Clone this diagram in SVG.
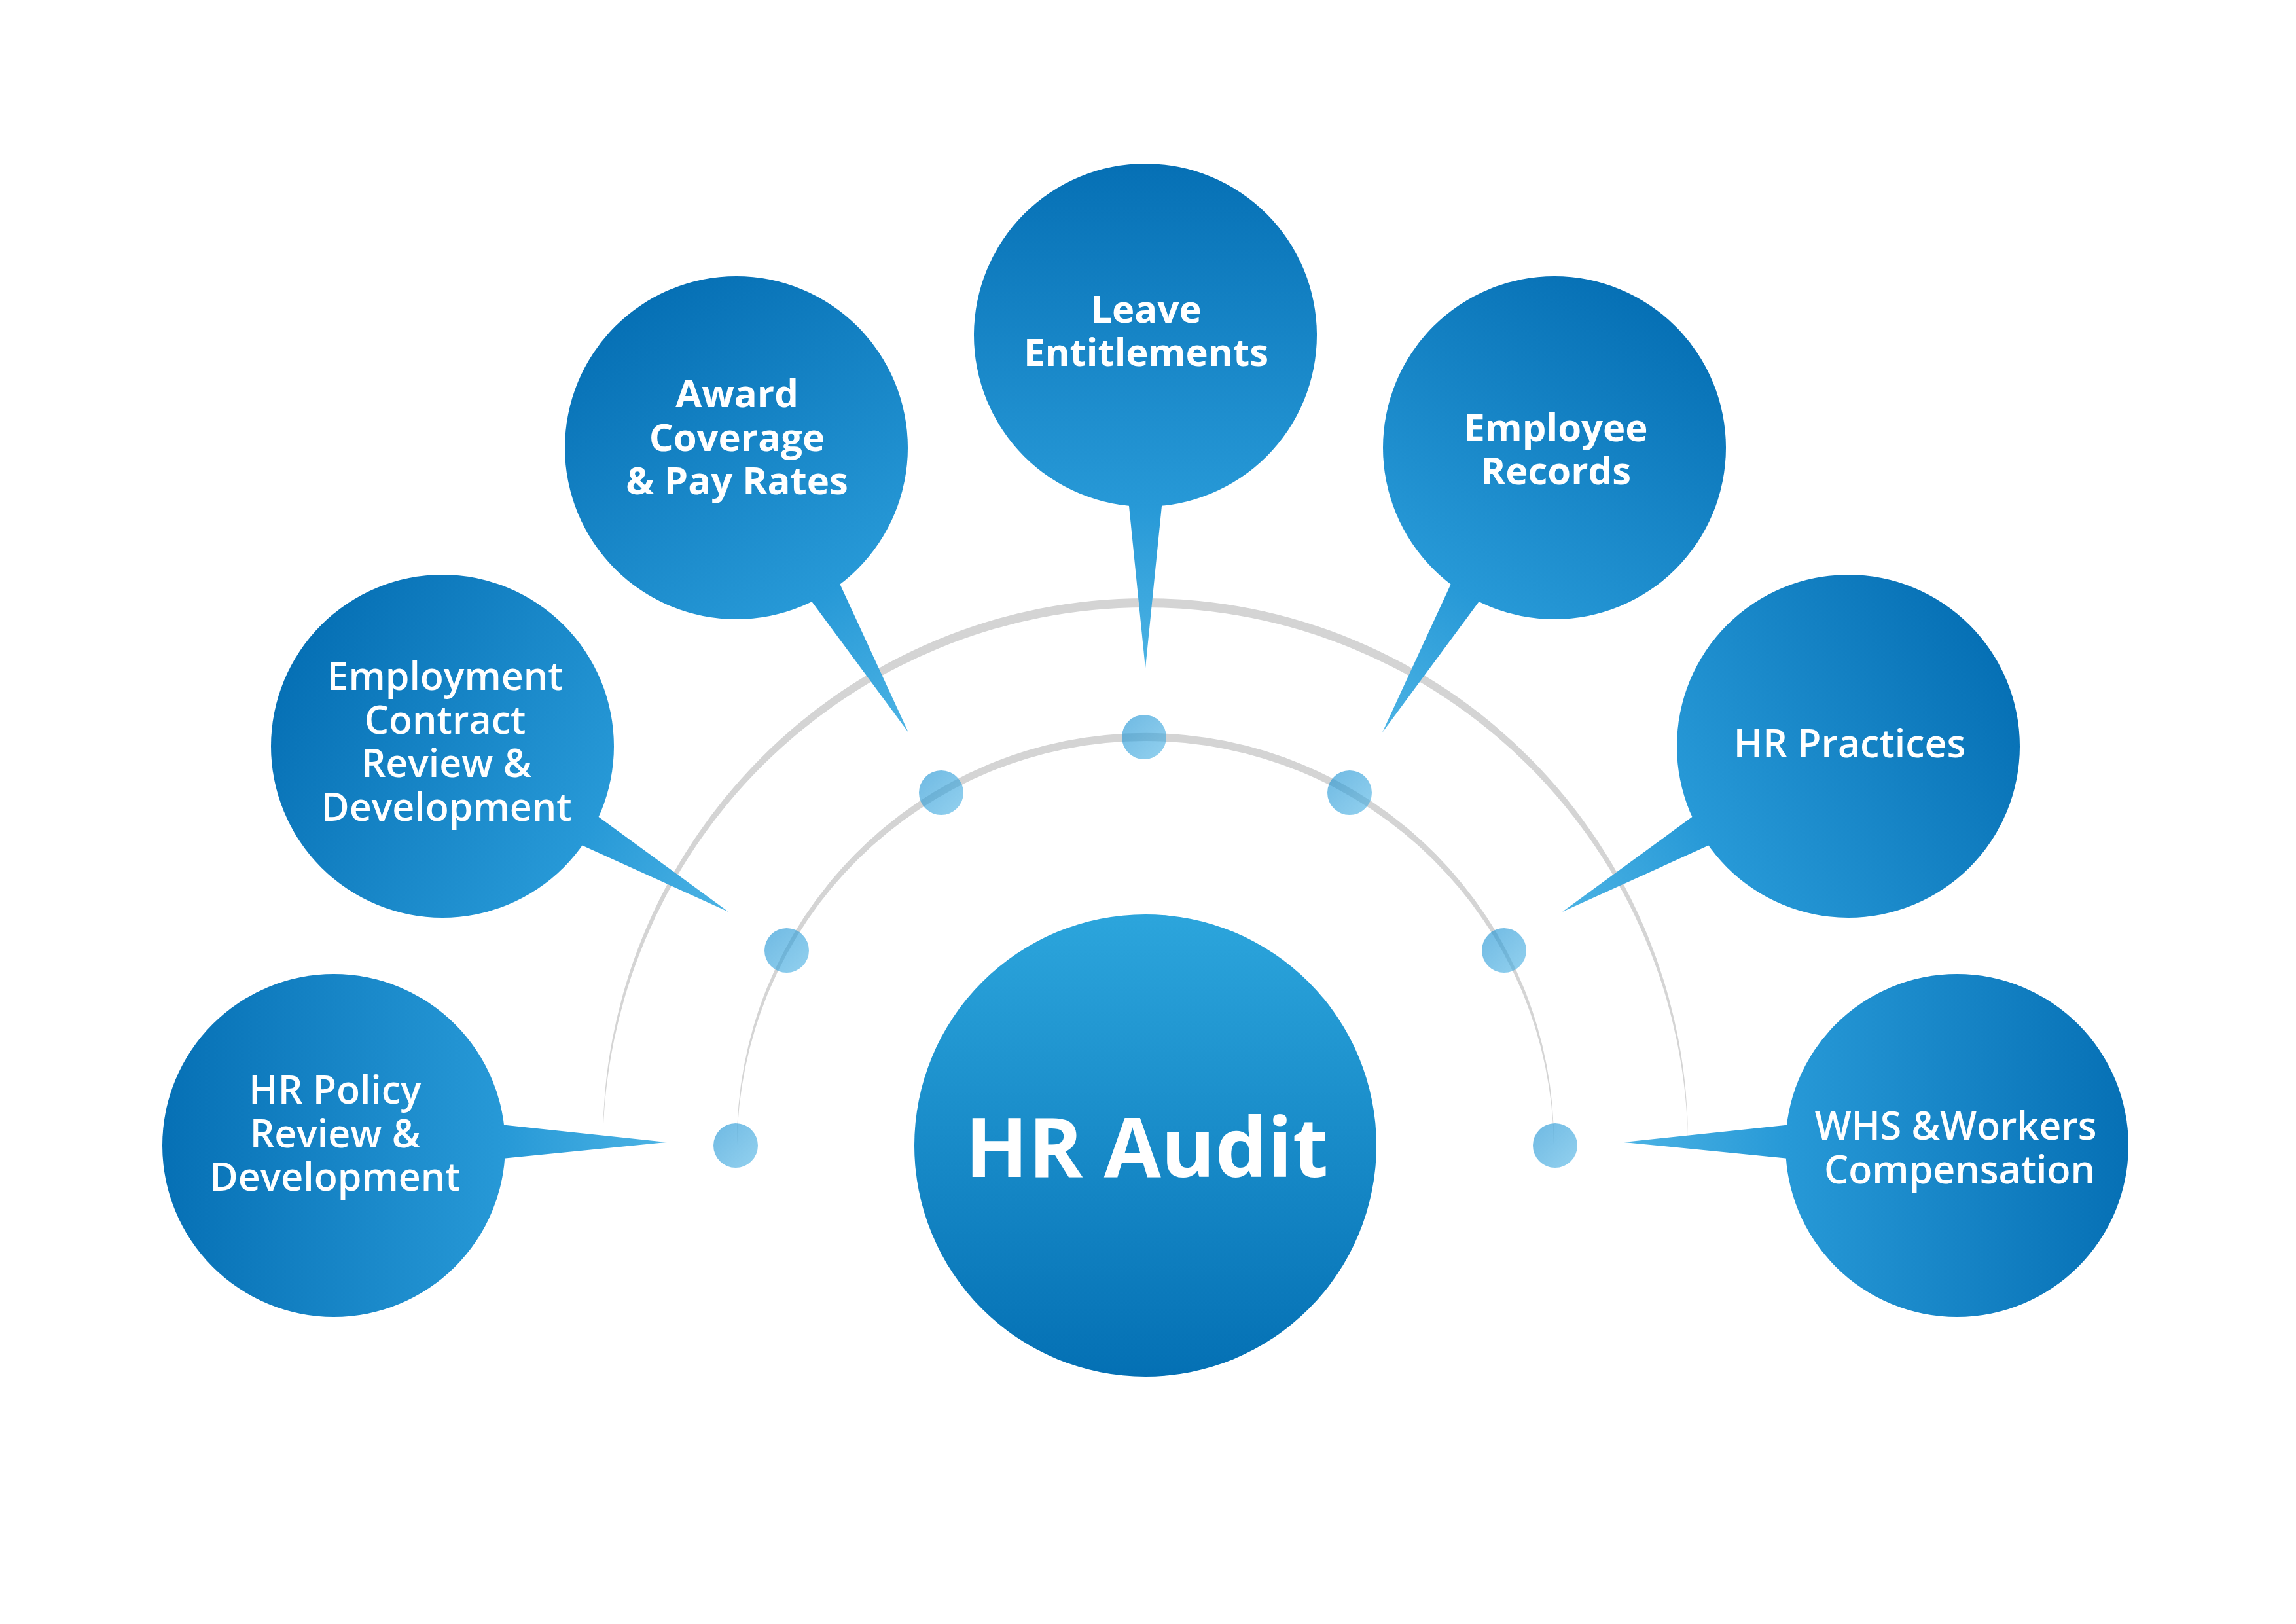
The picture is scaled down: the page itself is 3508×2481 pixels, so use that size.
<svg xmlns="http://www.w3.org/2000/svg" width="3508" height="2481" viewBox="0 0 3508 2481">
<defs>
<style>
.lbl{font-family:"Open Sans","Liberation Sans",sans-serif;font-weight:700;font-size:58px;fill:#ffffff;text-anchor:middle}
.lbl2{font-family:"Open Sans","Liberation Sans",sans-serif;font-weight:600;font-size:59px;fill:#ffffff;text-anchor:middle}
.title{font-family:"Open Sans","Liberation Sans",sans-serif;font-weight:700;font-size:126px;fill:#ffffff;text-anchor:middle}
.arc{fill:#d4d4d4}
.dot{fill:url(#gDot);fill-opacity:0.6}
</style>
<linearGradient id="gDot" x1="0" y1="0" x2="1" y2="1">
<stop offset="0" stop-color="#0f8bd0"/>
<stop offset="1" stop-color="#4ab2e4"/>
</linearGradient>
<linearGradient id="gCenter" x1="0" y1="0" x2="0" y2="1">
<stop offset="0" stop-color="#2ca5dc"/>
<stop offset="1" stop-color="#0470b4"/>
</linearGradient>
<linearGradient id="g1" gradientUnits="userSpaceOnUse" x1="248" y1="1750" x2="1019" y2="1745">
<stop offset="0" stop-color="#0670b5"/><stop offset="0.68" stop-color="#2799d7"/><stop offset="1" stop-color="#4cb3e4"/>
</linearGradient>
<linearGradient id="g2" gradientUnits="userSpaceOnUse" x1="449" y1="1009" x2="1113" y2="1393">
<stop offset="0" stop-color="#0670b5"/><stop offset="0.68" stop-color="#2799d7"/><stop offset="1" stop-color="#4cb3e4"/>
</linearGradient>
<linearGradient id="g3" gradientUnits="userSpaceOnUse" x1="989" y1="460" x2="1388" y2="1119">
<stop offset="0" stop-color="#0670b5"/><stop offset="0.68" stop-color="#2799d7"/><stop offset="1" stop-color="#4cb3e4"/>
</linearGradient>
<linearGradient id="g4" gradientUnits="userSpaceOnUse" x1="1750" y1="250" x2="1750" y2="1021">
<stop offset="0" stop-color="#0670b5"/><stop offset="0.68" stop-color="#2799d7"/><stop offset="1" stop-color="#4cb3e4"/>
</linearGradient>
<linearGradient id="g5" gradientUnits="userSpaceOnUse" x1="2511" y1="460" x2="2112" y2="1119">
<stop offset="0" stop-color="#0670b5"/><stop offset="0.68" stop-color="#2799d7"/><stop offset="1" stop-color="#4cb3e4"/>
</linearGradient>
<linearGradient id="g6" gradientUnits="userSpaceOnUse" x1="3051" y1="1009" x2="2387" y2="1393">
<stop offset="0" stop-color="#0670b5"/><stop offset="0.68" stop-color="#2799d7"/><stop offset="1" stop-color="#4cb3e4"/>
</linearGradient>
<linearGradient id="g7" gradientUnits="userSpaceOnUse" x1="3252" y1="1750" x2="2481" y2="1745">
<stop offset="0" stop-color="#0670b5"/><stop offset="0.68" stop-color="#2799d7"/><stop offset="1" stop-color="#4cb3e4"/>
</linearGradient>
</defs>
<rect width="3508" height="2481" fill="#ffffff"/>

<g id="connectors">
<path class="arc" d="M 921 1750 A 829.03 829.03 0 1 1 2579 1750 A 829.03 829.03 0 0 0 921 1750 Z"/>
<path class="arc" d="M 1126 1750 A 624.03 624.03 0 1 1 2374 1750 A 624.03 624.03 0 0 0 1126 1750 Z"/>
<circle class="dot" cx="1124" cy="1750" r="34"/>
<circle class="dot" cx="1202" cy="1452" r="34"/>
<circle class="dot" cx="1438" cy="1211" r="34"/>
<circle class="dot" cx="1748" cy="1126" r="34"/>
<circle class="dot" cx="2062" cy="1211" r="34"/>
<circle class="dot" cx="2298" cy="1452" r="34"/>
<circle class="dot" cx="2376" cy="1750" r="34"/>
</g>

<g id="node-hr-policy">
<circle cx="510" cy="1750" r="262" fill="url(#g1)"/>
<polygon points="697,1711 1019,1745 697,1777" fill="url(#g1)"/>
<text class="lbl2" x="512" y="1686">HR Policy<tspan x="512" dy="67">Review &amp;</tspan><tspan x="512" dy="66">Development</tspan></text>
</g>

<g id="node-employment-contract">
<circle cx="676" cy="1140" r="262" fill="url(#g2)"/>
<polygon points="834,1189 1113,1393 798,1250" fill="url(#g2)"/>
<text class="lbl2" x="680" y="1054">Employment<tspan x="680" dy="67">Contract</tspan><tspan x="682" dy="66">Review &amp;</tspan><tspan x="682" dy="67">Development</tspan></text>
</g>

<g id="node-award-coverage">
<circle cx="1125" cy="684" r="262" fill="url(#g3)"/>
<polygon points="1242,803 1388,1119 1182,840" fill="url(#g3)"/>
<text class="lbl" x="1126" y="622">Award<tspan x="1126" dy="67">Coverage</tspan><tspan x="1126" dy="66">&amp; Pay Rates</tspan></text>
</g>

<g id="node-leave-entitlements">
<circle cx="1750" cy="512" r="262" fill="url(#g4)"/>
<polygon points="1715,674 1750,1021 1785,674" fill="url(#g4)"/>
<text class="lbl" x="1751" y="493">Leave<tspan x="1751" dy="66">Entitlements</tspan></text>
</g>

<g id="node-employee-records">
<circle cx="2375" cy="684" r="262" fill="url(#g5)"/>
<polygon points="2258,803 2112,1119 2318,840" fill="url(#g5)"/>
<text class="lbl" x="2377" y="674">Employee<tspan x="2377" dy="66">Records</tspan></text>
</g>

<g id="node-hr-practices">
<circle cx="2824" cy="1140" r="262" fill="url(#g6)"/>
<polygon points="2666,1189 2387,1393 2702,1250" fill="url(#g6)"/>
<text class="lbl2" x="2826" y="1157">HR Practices</text>
</g>

<g id="node-whs">
<circle cx="2990" cy="1750" r="262" fill="url(#g7)"/>
<polygon points="2803,1711 2481,1745 2803,1777" fill="url(#g7)"/>
<text class="lbl2" x="2988" y="1741">WHS &amp;Workers<tspan x="2994" dy="67">Compensation</tspan></text>
</g>

<g id="node-hr-audit">
<circle cx="1750" cy="1750" r="353" fill="url(#gCenter)"/>
<text class="title" x="1752" y="1798">HR Audit</text>
</g>
</svg>
